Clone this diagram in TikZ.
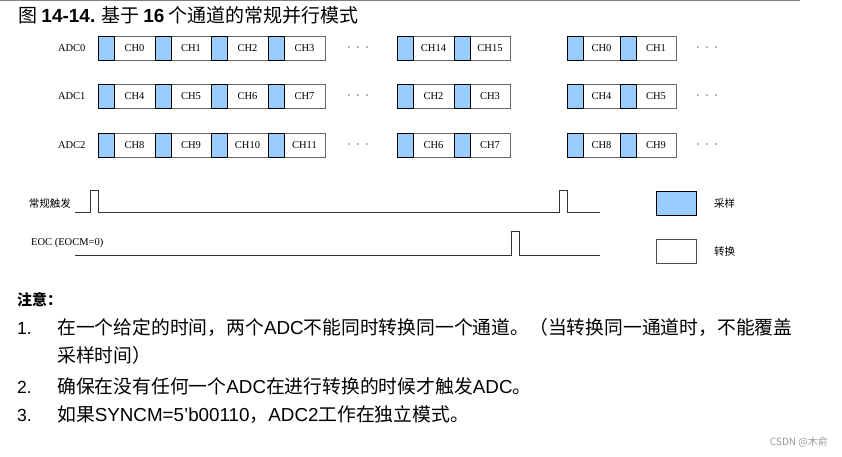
\documentclass[tikz,border=0pt]{standalone}
\usepackage{fontspec}
\setmainfont{Liberation Serif}
\newfontfamily\cjk{Noto Sans CJK SC}
\newfontfamily\arial{Liberation Sans}
\definecolor{samp}{RGB}{153,204,255}
\begin{document}
\begin{tikzpicture}[x=1pt,y=-1pt,
  sbox/.style={draw=black,fill=samp,line width=0.6pt},
  cbox/.style={draw=black!60,fill=white,line width=0.6pt},
  lbl/.style={font=\fontsize{10.5}{12}\selectfont},
  note/.style={anchor=base west,font=\cjk\fontsize{18.8}{20}\selectfont,inner sep=0pt},
  sig/.style={line width=0.7pt,draw=black!80}]
\useasboundingbox (0,0) rectangle (842,456);
\draw[black!50,line width=0.8pt] (0,0.5) -- (800,0.5);
\node[anchor=base west,inner sep=0pt,font=\cjk\fontsize{19}{21}\selectfont] (title) at (18,22) {图 {\arial\bfseries 14-14.} 基于 {\arial\bfseries 16} 个通道的常规并行模式};
% rows
\foreach \r/\y/\a/\b/\c/\d/\e/\f/\g/\h in {0/36/0/1/2/3/14/15/0/1, 1/84/4/5/6/7/2/3/4/5, 2/133/8/9/10/11/6/7/8/9}{
  \node[lbl,anchor=east] (adc\r) at (89,\y+12) {ADC\r};
  \foreach \xs/\xe/\ch/\k in {98/155/\a/a,155/211/\b/b,211/268/\c/c,268/325/\d/d,397/454/\e/e,454/510/\f/f}{
    \draw[cbox] (\xs+16,\y) rectangle (\xe,\y+24);
    \draw[sbox] (\xs,\y) rectangle (\xs+16,\y+24);
    \node[lbl] (ch\r\k) at ({(\xs+16+\xe)/2},\y+12) {CH\ch};
  }
  \foreach \xs/\xe/\ch/\k in {567/620/\g/g,620/676/\h/h}{
    \draw[cbox] (\xs+16,\y) rectangle (\xe,\y+24);
    \draw[sbox] (\xs,\y) rectangle (\xs+16,\y+24);
    \node[lbl] (ch\r\k) at ({(\xs+16+\xe)/2},\y+12) {CH\ch};
  }
  \node[font=\fontsize{12}{12}\selectfont] (dA\r) at (358,\y+12) {$\cdot\ \cdot\ \cdot$};
  \node[font=\fontsize{12}{12}\selectfont] (dB\r) at (707,\y+12) {$\cdot\ \cdot\ \cdot$};
}
% signals
\node[anchor=east,inner sep=0pt,font=\cjk\fontsize{10.5}{12}\selectfont] (trg) at (71,203) {常规触发};
\draw[sig] (75,212) -- (90,212) -- (90,190) -- (98,190) -- (98,212) -- (559,212) -- (559,190) -- (567,190) -- (567,212) -- (600,212);
\node[anchor=west,inner sep=0pt,lbl] (eoc) at (31,243) {EOC (EOCM=0)};
\draw[sig] (75,255) -- (511,255) -- (511,231) -- (519,231) -- (519,255) -- (600,255);
% legend
\draw[sbox] (656,191) rectangle (696,215);
\node[anchor=west,inner sep=0pt,font=\cjk\fontsize{10.5}{12}\selectfont] (ls) at (714,203) {采样};
\draw[draw=black!70,line width=0.6pt] (656,239) rectangle (696,263);
\node[anchor=west,inner sep=0pt,font=\cjk\fontsize{10.5}{12}\selectfont] (lc) at (714,251) {转换};
% notes
\node[note,font=\cjk\bfseries\fontsize{15}{16}\selectfont] (n0) at (17,305) {注意：};
\node[note,font=\arial\fontsize{17.5}{18}\selectfont] (n1n) at (17,334) {1.};
\node[note] (n1) at (57,334) {在一个给定的时间，两个{\arial ADC}不能同时转换同一个通道。（当转换同一通道时，不能覆盖};
\node[note] (n1b) at (57,362) {采样时间）};
\node[note,font=\arial\fontsize{17.5}{18}\selectfont] (n2n) at (17,393) {2.};
\node[note] (n2) at (57,393) {确保在没有任何一个{\arial ADC}在进行转换的时候才触发{\arial ADC}。};
\node[note,font=\arial\fontsize{17.5}{18}\selectfont] (n3n) at (17,421) {3.};
\node[note] (n3) at (57,421) {如果{\arial SYNCM=5’b00110}，{\arial ADC2}工作在独立模式。};
\node[anchor=base east,inner sep=0pt,text=black!40,font=\cjk\fontsize{10}{11}\selectfont] (wm) at (828,445) {CSDN @木俞};
\end{tikzpicture}
\end{document}
